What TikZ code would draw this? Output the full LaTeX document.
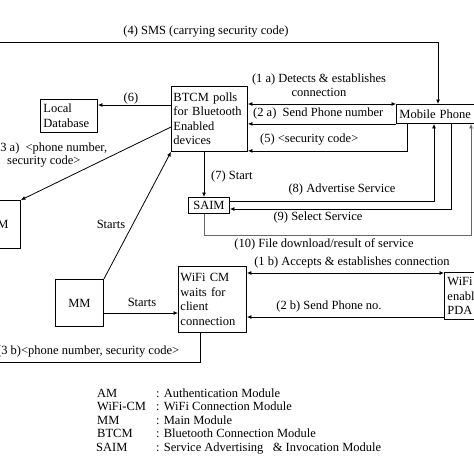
\documentclass[tikz,border=0pt]{standalone}
\usepackage{fontspec}
\setmainfont{Liberation Serif}
\usetikzlibrary{arrows.meta}
\begin{document}
\begin{tikzpicture}[x=1pt,y=-1pt,
  every node/.style={font=\fontsize{12.5}{14.5}\selectfont, inner sep=0pt},
  box/.style={draw, line width=0.9pt, anchor=north west},
  lbox/.style={box, align=left, inner xsep=3pt, inner ysep=0pt},
  cbox/.style={box, align=center, inner sep=0pt},
  wire/.style={line width=0.8pt},
  conn/.style={wire, -{Latex[length=4.5pt,width=4pt]}},
  dconn/.style={wire, {Latex[length=4.5pt,width=4pt]}-{Latex[length=4.5pt,width=4pt]}},
  graywire/.style={conn, draw=black!60},
  lbl/.style={inner sep=0pt}]
\useasboundingbox (0,0) rectangle (474,474);
\fill[white] (0,0) rectangle (474,474);
\clip (0,0) rectangle (474,474);

% boxes
\node[lbox, minimum width=76pt, minimum height=65pt, text width=72pt, inner xsep=2pt] (btcm) at (171,86) {BTCM polls\\for Bluetooth\\Enabled\\devices};
\node[lbox, minimum width=57pt, minimum height=33pt, text width=51pt] (localdb) at (40,99) {Local\\Database};
\node[lbox, minimum width=90pt, minimum height=19pt, text width=84pt] (mobile) at (396,104) {Mobile Phone};
\node[cbox, minimum width=44pt, minimum height=48pt] (am) at (-24,200) {AM};
\node[cbox, minimum width=41pt, minimum height=16pt] (saim) at (188,197) {SAIM};
\node[cbox, minimum width=48pt, minimum height=47pt] (mm) at (55,279) {MM};
\node[lbox, minimum width=68pt, minimum height=66pt, text width=64pt, inner xsep=2pt] (wifi) at (178,266) {WiFi CM\\waits for\\client\\connection};
\node[lbox, minimum width=50pt, minimum height=47pt, text width=44pt] (pda) at (444,272) {WiFi\\enabled\\PDA};

% helper coordinates
\coordinate (smsL) at (-5,42);
\coordinate (y6) at (0,105);
\coordinate (y3a) at (0,127);
\coordinate (y313) at (0,313);
\coordinate (x204) at (204,0);
\coordinate (y201) at (0,201);
\coordinate (x434) at (434,0);
\coordinate (x451) at (451,0);
\coordinate (y209) at (0,209);
\coordinate (y235) at (0,235);
\coordinate (x471) at (471,0);
\coordinate (y273) at (0,273);
\coordinate (y317) at (0,317);
\coordinate (x200) at (200,0);
\coordinate (left3b) at (-5,362);

% connectors
\draw[conn] (smsL) -| ([xshift=42pt]mobile.north west);
\draw[dconn] (btcm.east |- mobile.north west) -- (mobile.north west);
\draw[conn] (mobile.south west) -- (btcm.east |- mobile.south west);
\draw[conn] ([xshift=11pt]mobile.south west) |- ([yshift=1pt]btcm.south east);
\draw[conn] (btcm.west |- y6) -- (localdb.east |- y6);
\draw[conn] (btcm.west |- y3a) -- (am.north east);
\draw[conn] (mm.north east) -- (btcm.south west);
\draw[conn] (mm.east |- y313) -- (wifi.west |- y313);
\draw[conn] (btcm.south -| x204) -- (saim.north -| x204);
\draw[conn] (saim.east |- y201) -| (mobile.south -| x434);
\draw[conn] (mobile.south -| x451) |- (saim.east |- y209);
\draw[graywire] (saim.south -| x204) -- (x204 |- y235) -| (mobile.south -| x471);
\draw[dconn] (wifi.east |- y273) -- (pda.west |- y273);
\draw[conn] (pda.west |- y317) -- (wifi.east |- y317);
\draw[wire] (wifi.south -| x200) |- (left3b);

% labels
\node[lbl] (l4) at (206,32) {(4) SMS (carrying security code)};
\node[lbl, align=center] (l1a) at (319,85) {(1 a) Detects \& establishes\\connection};
\node[lbl, anchor=west] (l2a) at (253,113) {(2 a)\ \ Send Phone number};
\node[lbl, anchor=west] (l5) at (260,140) {(5) <security code>};
\node[lbl] (l6) at (131,98) {(6)};
\node[lbl, anchor=west] (l3a1) at (-4,148) {(3 a)\ \ <phone number,};
\node[lbl, anchor=west] (l3a2) at (7,162) {security code>};
\node[lbl, anchor=west] (l7) at (211,176) {(7) Start};
\node[lbl] (l8) at (342,189) {(8) Advertise Service};
\node[lbl] (l9) at (318,217) {(9) Select Service};
\node[lbl] (l10) at (324,244) {(10) File download/result of service};
\node[lbl] (ls1) at (111,224) {Starts};
\node[lbl] (ls2) at (142,302) {Starts};
\node[lbl] (l1b) at (352,262) {(1 b) Accepts \& establishes connection};
\node[lbl] (l2b) at (329,306) {(2 b) Send Phone no.};
\node[lbl, anchor=west] (l3b) at (-3,352) {(3 b)<phone number, security code>};

% legend
\node[lbl, anchor=base west] (ga1) at (97,397) {AM};
\node[lbl, anchor=base west] (ga2) at (97,410.5) {WiFi-CM};
\node[lbl, anchor=base west] (ga3) at (97,424) {MM};
\node[lbl, anchor=base west] (ga4) at (97,437.5) {BTCM};
\node[lbl, anchor=base west] (ga5) at (96,451) {SAIM};
\node[lbl, anchor=base west] (gb1) at (156,397) {: Authentication Module};
\node[lbl, anchor=base west] (gb2) at (156,410.5) {: WiFi Connection Module};
\node[lbl, anchor=base west] (gb3) at (156,424) {: Main Module};
\node[lbl, anchor=base west] (gb4) at (156,437.5) {: Bluetooth Connection Module};
\node[lbl, anchor=base west] (gb5) at (156,451) {: Service Advertising\ \ \ \& Invocation Module};
\end{tikzpicture}
\end{document}
